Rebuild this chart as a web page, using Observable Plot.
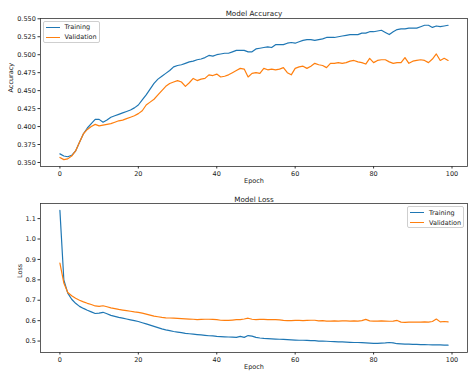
<!DOCTYPE html>
<html><head><meta charset="utf-8">
<script src="https://cdn.jsdelivr.net/npm/d3@7"></script>
<script src="https://cdn.jsdelivr.net/npm/@observablehq/plot@0.6"></script>
<style>
body{margin:0;background:#fff;font-family:"DejaVu Sans",sans-serif;}
#fig{position:relative;width:474px;height:379px;overflow:hidden;background:#fff}
#fig svg{position:absolute;left:0}
.legend{position:absolute;box-sizing:border-box;background:rgba(255,255,255,0.8);border:0.8px solid #cfcfcf;border-radius:2px;font-size:6.5px;color:#1a1a1a;width:57px;height:22px}
.legend .sw{position:absolute;left:2px;width:14px;height:0;border-top:1.2px solid}
.legend .lb{position:absolute;left:21px;white-space:nowrap;line-height:8px}
</style>
</head><body>
<div id="fig"></div>
<script>
const seriesNames = ["Training", "Validation"];
const seriesColors = ["#1f77b4", "#ff7f0e"];
const xTicks = [0, 20, 40, 60, 80, 100];
const accTicks = [0.350, 0.375, 0.400, 0.425, 0.450, 0.475, 0.500, 0.525, 0.550];
const lossTicks = [0.5, 0.6, 0.7, 0.8, 0.9, 1.0, 1.1];

const trainAcc = [
0.362,0.359,0.358,0.360,0.366,0.378,0.390,0.398,0.404,0.410,
0.410,0.406,0.409,0.413,0.415,0.417,0.419,0.421,0.423,0.426,
0.430,0.437,0.444,0.452,0.460,0.466,0.470,0.474,0.478,0.483,
0.485,0.486,0.488,0.490,0.491,0.493,0.494,0.496,0.499,0.498,
0.500,0.501,0.502,0.502,0.504,0.506,0.506,0.506,0.504,0.504,
0.508,0.509,0.510,0.511,0.510,0.514,0.514,0.514,0.516,0.517,
0.516,0.518,0.520,0.521,0.521,0.520,0.521,0.522,0.524,0.524,
0.524,0.525,0.526,0.527,0.528,0.528,0.528,0.530,0.530,0.532,
0.532,0.533,0.534,0.531,0.528,0.532,0.535,0.536,0.536,0.537,
0.537,0.537,0.539,0.541,0.541,0.538,0.540,0.539,0.540,0.541];

const valAcc = [
0.357,0.354,0.355,0.359,0.366,0.378,0.390,0.396,0.400,0.403,
0.401,0.402,0.403,0.404,0.406,0.408,0.409,0.411,0.413,0.415,
0.418,0.422,0.430,0.434,0.438,0.444,0.450,0.456,0.460,0.462,
0.464,0.462,0.456,0.461,0.467,0.464,0.466,0.467,0.472,0.471,
0.473,0.469,0.470,0.472,0.475,0.478,0.481,0.480,0.469,0.474,
0.475,0.474,0.481,0.479,0.480,0.479,0.480,0.482,0.475,0.472,
0.481,0.483,0.484,0.481,0.484,0.488,0.486,0.485,0.482,0.488,
0.488,0.489,0.488,0.489,0.491,0.492,0.490,0.489,0.487,0.495,
0.489,0.492,0.493,0.493,0.490,0.488,0.489,0.489,0.496,0.488,
0.491,0.492,0.493,0.492,0.489,0.494,0.501,0.492,0.495,0.492];

const trainLoss = [
1.140,0.800,0.735,0.705,0.685,0.670,0.660,0.651,0.643,0.635,
0.637,0.641,0.634,0.626,0.621,0.616,0.612,0.608,0.604,0.600,
0.596,0.590,0.584,0.578,0.572,0.566,0.560,0.555,0.551,0.547,
0.544,0.541,0.538,0.536,0.534,0.532,0.530,0.528,0.526,0.525,
0.523,0.522,0.521,0.520,0.519,0.518,0.523,0.518,0.527,0.524,
0.518,0.515,0.513,0.512,0.511,0.510,0.509,0.508,0.507,0.506,
0.505,0.504,0.504,0.503,0.502,0.502,0.500,0.500,0.499,0.498,
0.497,0.496,0.496,0.495,0.494,0.493,0.493,0.492,0.491,0.490,
0.489,0.489,0.490,0.491,0.493,0.491,0.487,0.486,0.485,0.485,
0.484,0.484,0.483,0.483,0.482,0.481,0.481,0.481,0.480,0.480];

const valLoss = [
0.882,0.785,0.738,0.722,0.710,0.700,0.692,0.685,0.679,0.672,
0.670,0.673,0.668,0.663,0.659,0.655,0.652,0.649,0.646,0.643,
0.641,0.637,0.632,0.627,0.622,0.619,0.616,0.614,0.613,0.612,
0.611,0.610,0.609,0.608,0.607,0.605,0.606,0.607,0.607,0.606,
0.605,0.602,0.601,0.601,0.603,0.605,0.605,0.608,0.612,0.607,
0.605,0.606,0.606,0.605,0.605,0.605,0.604,0.601,0.600,0.600,
0.601,0.601,0.600,0.601,0.602,0.602,0.599,0.600,0.598,0.598,
0.599,0.598,0.599,0.599,0.598,0.599,0.598,0.600,0.606,0.599,
0.598,0.598,0.599,0.598,0.597,0.598,0.601,0.593,0.592,0.593,
0.593,0.593,0.593,0.594,0.593,0.596,0.608,0.594,0.596,0.594];

const epochs = d3.range(trainAcc.length);
const xDomain = [-4.95, 103.95];

function table(a, b) {
  return [a, b].flatMap((arr, i) => arr.map((v, e) => ({epoch: epochs[e], value: v, series: seriesNames[i]})));
}

const ink = "#1a1a1a";
function panel({data, yDomain, yTicks, yFmt, title, ylabel, ylabelDx, titleDy, height, mt, mb}) {
  return Plot.plot({
    width: 474, height, marginTop: mt, marginBottom: mb, marginLeft: 40, marginRight: 7,
    style: {fontFamily: "DejaVu Sans", fontSize: "6.5px", color: ink, background: "transparent", overflow: "visible"},
    x: {domain: xDomain},
    y: {domain: yDomain},
    color: {domain: seriesNames, range: seriesColors},
    marks: [
      Plot.lineY(data, {x: "epoch", y: "value", z: "series", stroke: "series", strokeWidth: 1.2}),
      Plot.frame({stroke: "#333", strokeWidth: 0.8}),
      Plot.axisX({ticks: xTicks, tickSize: 2.5, tickPadding: 2.2, label: null, stroke: "#333", fill: ink}),
      Plot.axisY({ticks: yTicks, tickFormat: yFmt, tickSize: 2.5, tickPadding: 2.2, label: null, stroke: "#333", fill: ink}),
      Plot.text([title], {frameAnchor: "top", text: d => d, dy: titleDy, fontSize: 7.2, fill: ink}),
      Plot.text(["Epoch"], {frameAnchor: "bottom", text: d => d, dy: 16, fill: ink}),
      Plot.text([ylabel], {frameAnchor: "left", text: d => d, rotate: -90, dx: ylabelDx, fill: ink})
    ]
  });
}

const fig = document.getElementById("fig");
const p1 = panel({data: table(trainAcc, valAcc), yDomain: [0.3444, 0.5504], yTicks: accTicks, yFmt: d3.format(".3f"),
  title: "Model Accuracy", ylabel: "Accuracy", ylabelDx: -30, titleDy: -7.5, height: 189, mt: 18, mb: 23});
p1.style.top = "0px";
fig.appendChild(p1);
const p2 = panel({data: table(trainLoss, valLoss), yDomain: [0.444, 1.174], yTicks: lossTicks, yFmt: d3.format(".1f"),
  title: "Model Loss", ylabel: "Loss", ylabelDx: -21, titleDy: -7, height: 190, mt: 14, mb: 27});
p2.style.top = "189px";
fig.appendChild(p2);

function legend(left, top) {
  const div = document.createElement("div");
  div.className = "legend";
  div.style.left = left + "px";
  div.style.top = top + "px";
  seriesNames.forEach((name, i) => {
    const y = 5.6 + i * 10;
    const sw = document.createElement("div");
    sw.className = "sw";
    sw.style.top = (y - 0.6) + "px";
    sw.style.borderTopColor = seriesColors[i];
    const lb = document.createElement("div");
    lb.className = "lb";
    lb.style.top = (y - 4) + "px";
    lb.textContent = name;
    div.appendChild(sw);
    div.appendChild(lb);
  });
  fig.appendChild(div);
}
legend(42.5, 20.5);
legend(407, 206.3);
</script>
</body></html>
